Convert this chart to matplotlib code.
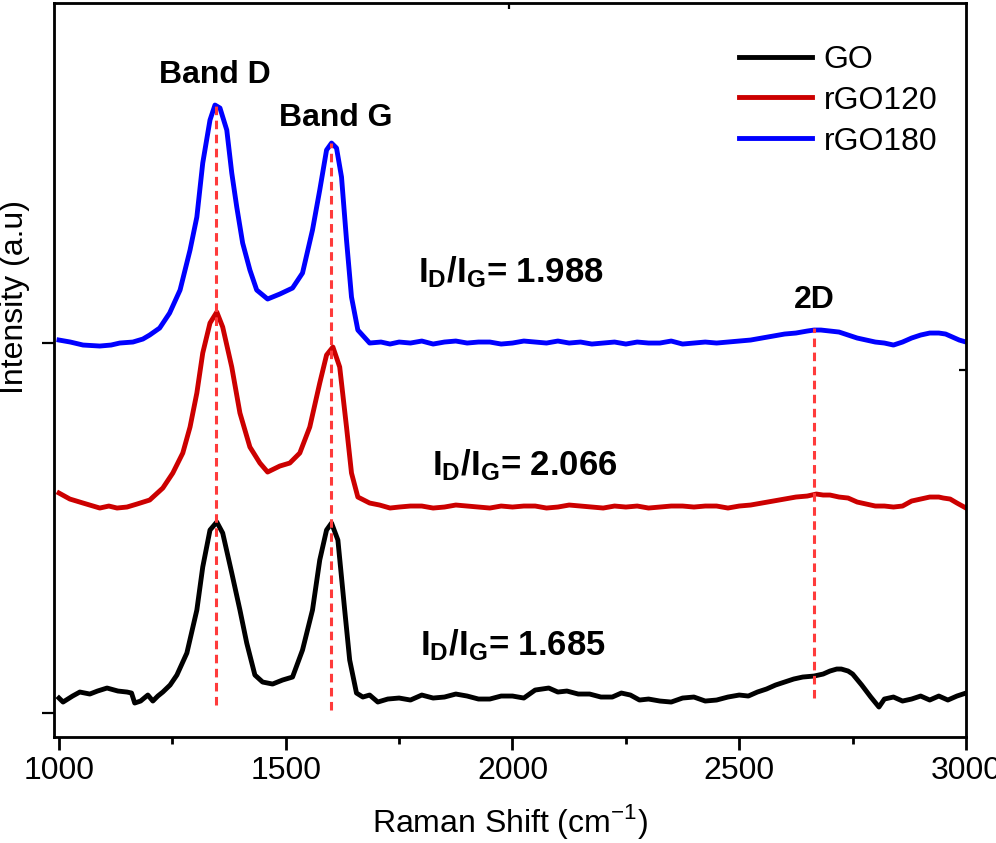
import matplotlib
matplotlib.use("Agg")
import matplotlib.pyplot as plt
from matplotlib.ticker import MultipleLocator

plt.rcParams["font.family"] = ["Liberation Sans", "DejaVu Sans"]
plt.rcParams["mathtext.fontset"] = "custom"
plt.rcParams["mathtext.rm"] = "Liberation Sans"
plt.rcParams["mathtext.bf"] = "Liberation Sans:bold"

# Raman shift (cm-1) and stacked intensity (a.u.)
go_x = [1000, 1009, 1030, 1046, 1068, 1085, 1106, 1130, 1150, 1160, 1167, 1180, 1196, 1207, 1218, 1229,
        1245, 1260, 1282, 1304, 1317, 1333, 1348, 1361, 1381, 1399, 1414, 1432, 1449, 1471, 1493, 1515,
        1537, 1559, 1575, 1590, 1601, 1615, 1630, 1641, 1656, 1670, 1685, 1703, 1725, 1750, 1775, 1800,
        1825, 1850, 1875, 1900, 1925, 1950, 1975, 2000, 2025, 2050, 2080, 2100, 2120, 2145, 2170, 2195,
        2220, 2240, 2260, 2280, 2300, 2325, 2350, 2375, 2400, 2425, 2450, 2475, 2500, 2520, 2540, 2560,
        2580, 2600, 2620, 2640, 2665, 2685, 2700, 2715, 2725, 2740, 2750, 2770, 2790, 2808, 2820, 2840,
        2860, 2880, 2900, 2920, 2940, 2960, 2980, 3000]
go_y = [39, 35, 41, 45, 43, 46, 49, 46, 45, 44, 34, 36, 42, 36, 41, 45,
        52, 62, 84, 127, 170, 207, 215, 204, 164, 127, 94, 62, 55, 53, 57, 60,
        87, 127, 177, 207, 214, 197, 127, 77, 44, 40, 42, 35, 38, 39, 37, 42,
        39, 40, 43, 41, 38, 38, 41, 41, 39, 47, 49, 45, 46, 43, 43, 40,
        40, 44, 42, 37, 38, 36, 35, 39, 40, 36, 37, 40, 42, 41, 45, 48,
        52, 55, 58, 60, 61, 63, 66, 68, 68, 66, 63, 52, 40, 30, 38, 40,
        36, 38, 41, 37, 41, 37, 41, 44]

rgo120_x = [1000, 1024, 1053, 1090, 1110, 1128, 1150, 1172, 1200, 1229, 1251, 1273, 1289, 1304, 1317,
            1333, 1348, 1361, 1381, 1399, 1421, 1443, 1460, 1487, 1509, 1531, 1553, 1575, 1590, 1604,
            1619, 1634, 1645, 1659, 1685, 1707, 1730, 1750, 1775, 1800, 1825, 1850, 1875, 1900, 1925,
            1950, 1975, 2000, 2025, 2050, 2075, 2100, 2125, 2150, 2175, 2200, 2225, 2250, 2275, 2300,
            2325, 2350, 2375, 2400, 2425, 2450, 2475, 2500, 2525, 2550, 2575, 2600, 2625, 2650, 2670,
            2685, 2700, 2720, 2740, 2760, 2780, 2800, 2820, 2840, 2860, 2880, 2900, 2920, 2940, 2950,
            2965, 2980, 3000]
rgo120_y = [244, 238, 234, 229, 231, 229, 230, 233, 237, 249, 264, 284, 310, 344, 384,
            414, 425, 410, 370, 324, 290, 274, 265, 271, 274, 284, 310, 354, 382, 390,
            370, 310, 264, 240, 234, 232, 229, 230, 231, 231, 229, 230, 232, 231, 230,
            229, 231, 230, 231, 231, 229, 230, 232, 231, 230, 229, 231, 230, 231, 229,
            230, 231, 231, 230, 231, 231, 229, 231, 232, 234, 236, 238, 240, 241, 243,
            242, 242, 240, 239, 235, 233, 231, 231, 230, 231, 236, 238, 240, 240, 239,
            238, 234, 229]

rgo180_x = [1000, 1025, 1053, 1090, 1115, 1134, 1163, 1185, 1200, 1222, 1244, 1267, 1289, 1304, 1317,
            1333, 1344, 1355, 1370, 1381, 1392, 1405, 1421, 1436, 1460, 1487, 1515, 1537, 1559, 1575,
            1590, 1601, 1612, 1623, 1634, 1645, 1659, 1685, 1710, 1730, 1750, 1775, 1800, 1825, 1850,
            1875, 1900, 1925, 1950, 1975, 2000, 2025, 2050, 2075, 2100, 2125, 2150, 2175, 2200, 2225,
            2250, 2275, 2300, 2325, 2350, 2375, 2400, 2425, 2450, 2475, 2500, 2525, 2550, 2575, 2600,
            2625, 2650, 2665, 2680, 2700, 2720, 2740, 2760, 2780, 2800, 2820, 2840, 2860, 2880, 2900,
            2920, 2940, 2955, 2970, 2985, 3000]
rgo180_y = [397, 395, 392, 391, 392, 394, 395, 398, 402, 409, 424, 447, 487, 520, 574,
            617, 632, 629, 607, 564, 530, 494, 467, 447, 438, 443, 449, 464, 507, 547,
            587, 594, 589, 560, 497, 440, 407, 394, 395, 393, 395, 394, 396, 393, 395,
            396, 394, 395, 395, 393, 394, 396, 395, 394, 396, 394, 395, 393, 394, 395,
            393, 395, 394, 394, 396, 393, 394, 395, 394, 395, 396, 397, 399, 401, 403,
            404, 406, 407, 407, 406, 405, 402, 399, 397, 395, 394, 392, 395, 399, 402,
            404, 404, 403, 400, 397, 395]

series = [("GO", go_x, go_y, "#000000"),
          ("rGO120", rgo120_x, rgo120_y, "#cc0000"),
          ("rGO180", rgo180_x, rgo180_y, "#0000ff")]

# band positions (cm-1) and how far the guide lines run (a.u.)
band_pos = [1346, 1599, 2665]
band_lo = [32, 27, 39]
band_hi = [632, 594, 409]

ratios = ["1.988", "2.066", "1.685"]
ratio_y = [465, 272, 92]
ratio_x = [1791, 1822, 1795]

fs = 23

fig = plt.figure(figsize=(9.96, 8.43), dpi=100)
ax = fig.add_axes([0.0542, 0.1257, 0.9157, 0.8707])

for name, xs, ys, c in series:
    ax.plot(xs, ys, color=c, lw=3.5, label=name, solid_joinstyle="round")

for p, lo, hi in zip(band_pos, band_lo, band_hi):
    ax.plot([p, p], [lo, hi], color="#ff3b3b", lw=2.2, ls=(0, (2.8, 1.8)), zorder=3)

ax.text(1344, 662, "Band D", fontsize=fs, fontweight="bold", ha="center", va="center")
ax.text(1610, 619, "Band G", fontsize=fs, fontweight="bold", ha="center", va="center")
ax.text(2665, 437, "2D", fontsize=fs, fontweight="bold", ha="center", va="center")
for r, xx, yy in zip(ratios, ratio_x, ratio_y):
    ax.text(xx, yy, r"$\mathbf{I_D/I_G}$" + "= " + r, fontsize=25, fontweight="bold",
            ha="left", va="center")

ax.set_xlim(989, 3000)
ax.set_ylim(0, 734)
ax.xaxis.set_major_locator(MultipleLocator(500))
ax.xaxis.set_minor_locator(MultipleLocator(250))
ax.set_yticks([24, 394])
ax.set_yticklabels([])
ax.tick_params(axis="x", which="major", direction="out", length=9, width=2, labelsize=fs, pad=5)
ax.tick_params(axis="x", which="minor", direction="out", length=5, width=2)
ax.tick_params(axis="y", direction="out", length=9, width=1.6)
for s in ax.spines.values():
    s.set_linewidth(2.0)

ax.set_xlabel(r"Raman Shift (cm$^{-1}$)", fontsize=fs, labelpad=11)
ax.set_ylabel("Intensity (a.u)", fontsize=fs)
ax.yaxis.set_label_coords(-0.0265, 0.6)

# small ticks on the top and right sides
axt = ax.twiny()
axt.set_xlim(ax.get_xlim())
axt.set_xticks([1993])
axt.set_xticklabels([])
axt.tick_params(axis="x", direction="in", length=4, width=1.6)
axr = ax.twinx()
axr.set_ylim(ax.get_ylim())
axr.set_yticks([367])
axr.set_yticklabels([])
axr.tick_params(axis="y", direction="in", length=5, width=1.6)

ax.legend(loc="upper right", bbox_to_anchor=(0.9825, 0.9605), frameon=False, fontsize=fs,
          handlelength=2.3, labelspacing=0.34, handletextpad=0.35, borderaxespad=0)

fig.savefig("out.png", dpi=100)
